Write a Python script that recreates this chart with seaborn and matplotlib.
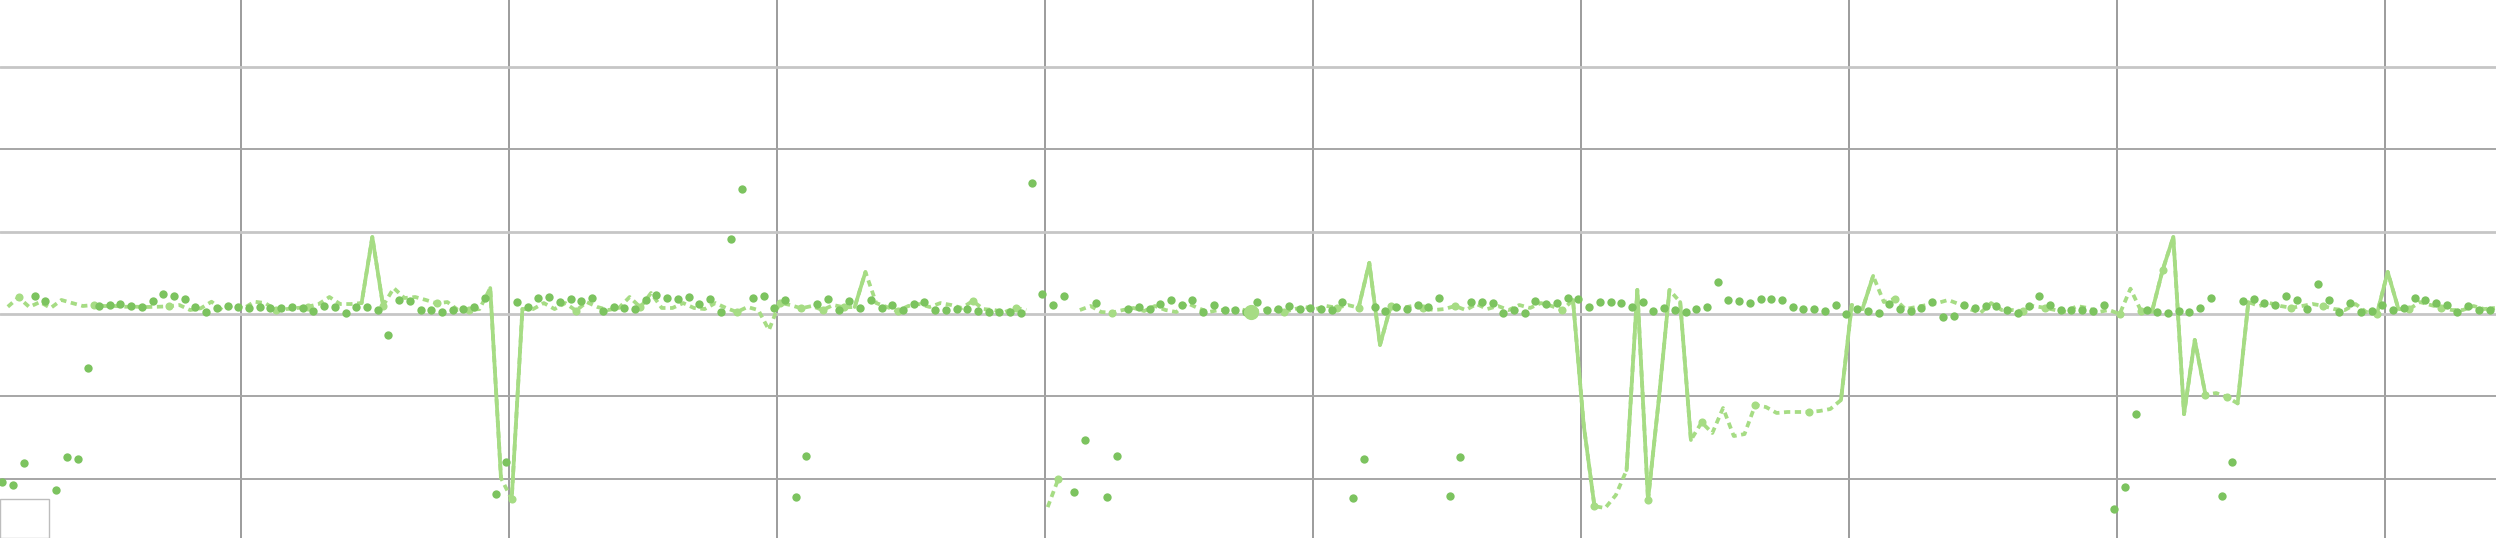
import numpy as np
import pandas as pd
import matplotlib
matplotlib.use("Agg")
import matplotlib.pyplot as plt
import seaborn as sns
from matplotlib.patches import Rectangle

# ---- data -------------------------------------------------------------
day = np.arange(-22, 211)

dark_vals = [
    -0.35, -0.75, 1.94, 22.21, 21.60, -1.40, 2.64, 2.39, 13.44, 20.92,
    21.12, 21.16, 20.96, 20.84, 21.60, 22.38, 22.14, 21.81, 20.80, 20.19,
    20.68, 20.96, 20.84, 20.68, 20.84, 20.72, 20.75, 20.87, 20.68, 20.32,
    20.99, 20.80, 20.07, 20.80, 20.87, 20.47, 17.44, 21.69, 21.57, 20.47,
    20.47, 20.23, 20.51, 20.63, 20.87, 21.99, -1.89, 1.99, 21.48,
    20.80, 21.97, 22.09, 21.48, 21.84, 21.57, 21.89, 20.39, 20.87, 20.72,
    20.56, 21.65, 22.33, 21.89, 21.81, 22.05, 21.24, 21.77, 20.27, 29.09,
    35.10, 21.93, 22.17, 20.68, 21.69, -2.26, 2.76, 21.16, 21.77, 20.51,
    21.53, 20.68, 21.69, 20.68, 21.12, 20.47, 21.20, 21.41, 20.47, 20.47,
    20.59, 20.59, 20.39, 20.23, 20.23, 20.23, 20.07, 35.88, 22.38, 21.12,
    22.14, -1.57, 4.70, 21.36, -2.22, 2.79, 20.56, 20.80, 20.56, 21.16,
    21.72, 21.08, 21.69, 20.23, 21.04, 20.47, 20.47, 20.23, 21.44, 20.44,
    20.56, 20.99, 20.56, 20.75, 20.56, 20.47, 21.44, -2.36, 2.39, 20.87,
    20.39, 20.80, 20.59, 21.04, 20.80, 21.89,
    -2.10, 2.67, 21.48, 21.48, 21.36, 20.07, 20.47, 20.15, 21.60, 21.20,
    21.28, 21.97, 21.77, 20.87, 21.48, 21.48, 21.36, 20.80, 21.48, 20.35,
    20.68, 20.47, 20.23, 20.59, 20.84, 23.87, 21.65, 21.57, 21.36, 21.81,
    21.81, 21.69, 20.80, 20.59, 20.56, 20.39, 21.12, 19.95, 20.59, 20.35,
    20.11, 21.16, 20.56, 20.32, 20.75, 21.41, 19.66,
    19.76, 21.10, 20.74, 20.94, 20.90, 20.45, 20.16, 21.02, 22.16, 21.14,
    20.45, 20.53, 20.45, 20.41, 21.10, -3.69, -1.03, 7.83, 20.49, 20.29,
    20.08, 20.36, 20.29, 20.74, 21.88, -2.13, 1.99, 21.52, 21.76, 21.38,
    21.10, 22.16, 21.71, 20.61, 23.68, 21.64, 20.29, 21.38, 20.24, 20.33,
    21.10, 20.53, 20.74, 21.97, 21.64, 21.31, 21.14, 20.21, 20.94, 20.53,
    20.53,
]

nan = float("nan")
light_vals = [
    20.87, 22.01, 20.84, 21.44, 20.72, 21.69, 21.32, 20.96, 21.08, 20.96,
    20.96, 20.87, 20.87, 20.84, 20.87, 20.92, 21.08, 20.47, 20.68, 21.48,
    20.47, 21.08, 20.68, 21.48, 21.32, 20.47, 20.59, 20.72, 20.87, 21.20,
    22.05, 21.20, 21.20, 21.32, 29.33, 20.99, 23.14, 21.93, 22.05, 21.69,
    21.28, 21.44, 20.47, 20.47, 20.59, 23.14, 0.10, -2.50, 20.59,
    20.59, 21.32, 20.59, 21.32, 20.39, 21.44, 20.84, 20.47, 20.72, 22.05,
    20.80, 22.54, 20.72, 20.72, 21.32, 20.72, 20.59, 21.32, 20.72, 20.23,
    20.84, 20.47, 18.05, 21.36, 21.08, 20.68, 20.96, 20.47, 21.08, 20.80,
    20.84, 25.08, 21.32, 20.84, 20.35, 20.96, 21.20, 20.84, 21.32, 21.08,
    20.72, 21.57, 20.59, 20.47, 20.23, 20.75, 20.47, nan, -3.44, 0.01,
    nan, 20.47, 20.96, 20.23, 20.15, 20.47, 20.72, 20.35, 20.96, 20.47,
    20.23, 21.32, 20.72, 20.23, 20.47, 20.47, 20.59, 20.19, 20.47, 20.59,
    20.19, 20.59, 20.84, 20.59, 20.96, 20.75, 21.08, 20.75, 26.18, 16.23,
    20.96, 20.72, 20.96, 20.75, 20.47, 20.59,
    20.96, 20.47, 21.20, 20.59, 20.96, 20.47, 21.08, 20.72, 21.32, 20.96,
    20.47, 21.69, 6.52, -3.32, -3.56, -1.98, 1.05, 22.90, -2.59, 9.55,
    22.90, 21.44, 4.70, 6.84, 5.55, 8.58, 5.18, 5.42, 8.95, 8.70,
    7.98, 8.10, 8.10, 8.10, 8.22, 8.46, 9.55, 21.08, 20.59, 24.61,
    21.44, 21.84, 20.59, 20.84, 21.08, 21.32, 21.69,
    21.20, 20.59, 20.11, 21.32, 20.47, 20.47, 20.33, 20.96, 20.74, 20.47,
    20.23, 20.96, 20.72, 20.23, 20.47, 20.00, 23.06, 20.33, 20.23, 25.30,
    29.33, 7.85, 16.83, 10.19, 10.40, 9.92, 9.14, 21.44, 20.96, 21.32,
    20.96, 20.74, 20.96, 21.20, 20.98, 20.59, 20.47, 21.20, 20.23, 20.04,
    25.08, 20.59, 20.57, 21.44, 21.08, 20.74, 20.47, 20.47, 20.96, 20.59,
    20.72,
]

light_marker_days = [-21, -14, -7, 3, 6, 13, 18, 21, 25, 31, 37, 46, 50, 52,
                     54, 56, 61, 68, 72, 76, 81, 97, 102, 104, 107, 110, 113,
                     123, 126, 131, 136, 141, 146, 154, 166, 168, 175, 177,
                     179, 183, 185, 191, 194, 199, 202, 205]
highlight_days = [94]

grid_x = np.arange(0, 201, 25)
grid_y = np.arange(0, 51, 10)

# ---- style ------------------------------------------------------------
DARK = "#7cc35f"
LIGHT = "#a6dc84"
sns.set_style("white")
plt.rcParams["lines.scale_dashes"] = False

fig = plt.figure(figsize=(24.96, 5.38), dpi=100)
ax = fig.add_axes([0, 0, 1, 1])

dodge = 0.25
dark_df = pd.DataFrame({"day": day, "x": day - dodge, "y": dark_vals})
light_df = pd.DataFrame({"day": day, "x": day + dodge, "y": light_vals})
light_df["run"] = light_df["y"].isna().cumsum()

# dashed light line (broken at missing values)
n_before = len(ax.lines)
sns.lineplot(data=light_df.dropna(), x="x", y="y", units="run",
             estimator=None, sort=False, color=LIGHT, linewidth=2.7,
             legend=False, ax=ax)
for ln in ax.lines[n_before:]:
    ln.set_linestyle((0, (4.5, 3.3)))
    ln.set_zorder(2)

# steep moves of the light series are drawn as solid strokes
yv = light_df["y"].to_numpy()
xv = light_df["x"].to_numpy()
rows = []
for i in range(len(yv) - 1):
    if np.isfinite(yv[i]) and np.isfinite(yv[i + 1]) and abs(yv[i + 1] - yv[i]) > 4:
        rows.append((xv[i], yv[i], i))
        rows.append((xv[i + 1], yv[i + 1], i))
seg_df = pd.DataFrame(rows, columns=["x", "y", "seg"])
n_before = len(ax.lines)
sns.lineplot(data=seg_df, x="x", y="y", units="seg", estimator=None,
             sort=False, color=LIGHT, linewidth=2.7, legend=False, ax=ax)
for ln in ax.lines[n_before:]:
    ln.set_zorder(2)

# light markers
mk = light_df[light_df["day"].isin(light_marker_days)]
sns.scatterplot(data=mk, x="x", y="y", color=LIGHT, s=34, linewidth=0,
                legend=False, ax=ax, zorder=2.5)

# dark points
sns.scatterplot(data=dark_df, x="x", y="y", color=DARK, s=36, linewidth=0,
                legend=False, ax=ax, zorder=3)

# highlighted light point
hl = light_df[light_df["day"].isin(highlight_days)]
sns.scatterplot(data=hl, x="x", y="y", color=LIGHT, s=120, linewidth=0,
                legend=False, ax=ax, zorder=3.5)

# ---- axes -------------------------------------------------------------
ax.set_xlim(-22.48, 210.35)
ax.set_ylim(-7.19, 58.09)
ax.set_xticks(grid_x)
ax.set_yticks(grid_y)
ax.grid(True, color="#9c9c9c", linewidth=1.4)
ax.set_axisbelow(True)
for gl, val in zip(ax.get_ygridlines(), grid_y):
    if val in (50, 30, 20):
        gl.set_color("#c6c6c6")
        gl.set_linewidth(2.0)
    else:
        gl.set_color("#a6a6a6")
        gl.set_linewidth(1.4)
ax.tick_params(length=0, labelbottom=False, labelleft=False)
ax.set_xlabel("")
ax.set_ylabel("")
for sp in ax.spines.values():
    sp.set_visible(False)

ax.add_patch(Rectangle((0, 0), 0.0195, 0.0725, transform=ax.transAxes,
                       fill=False, edgecolor="#bdbdbd", linewidth=1.0,
                       zorder=4))

fig.savefig("out.png", dpi=100)
